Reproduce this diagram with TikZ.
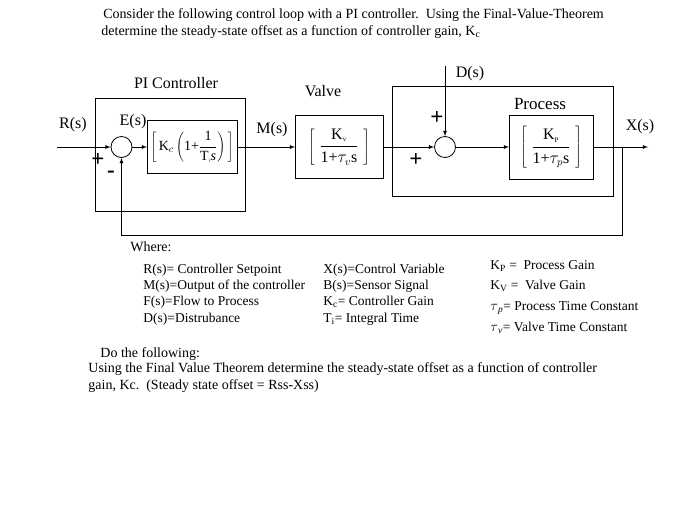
\documentclass[tikz,border=0pt]{standalone}
\usepackage{fontspec}
\setmainfont{Liberation Serif}
\usetikzlibrary{shapes,arrows}

\begin{document}
\begin{tikzpicture}[x=1pt,y=-1pt]
        \tikzstyle{every path}=[line width=0.8pt]
        \useasboundingbox (0,0) rectangle (700,528);

        \edef\sumsize{21pt}
        \tikzstyle{block}=[draw,rectangle,inner sep=0pt,outer sep=0pt]
        \tikzstyle{sum}=[draw,circle,minimum size=\sumsize,inner sep=0pt]
        \tikzstyle{lbl}=[draw=none,font=\fontsize{16}{18}\selectfont]
        \tikzstyle{sign}=[draw=none,font=\fontsize{23}{23}\selectfont\bfseries]
        \tikzstyle{txt}=[draw=none,anchor=base west,inner sep=0pt,font=\fontsize{14}{16}\selectfont]
        \tikzstyle{deftxt}=[txt,font=\fontsize{13.5}{16}\selectfont]
        \tikzstyle{sig}=[->,>=latex]

        %the question above the loop
        \node[txt] (q1) at (103,18) {Consider the following control loop with a PI controller.\ \ Using the Final-Value-Theorem};
        \node[txt] (q2) at (101,35) {determine the steady-state offset as a function of controller gain, K\textsubscript{c}};

        %outer boxes
        \node[block,minimum width=150pt,minimum height=113pt] (pibox) at (170,154.5) {};
        \node[block,minimum width=221pt,minimum height=110pt] (procbox) at (502.5,141) {};

        %blocks and summing points
        \node[sum] (e) at (121.5,147) {};
        \node[block,minimum width=90pt,minimum height=53pt,font=\fontsize{14}{16}\selectfont] (pi) at (192,147)
            {$\displaystyle\left[\,\mbox{K}_{c}\left(\mbox{1+}\frac{\mbox{1}}{\mbox{T}_{\mbox{\tiny i}}\mbox{\itshape s}}\right)\,\right]$};
        \node[block,minimum width=88pt,minimum height=63pt,font=\fontsize{16}{18}\selectfont] (valve) at (339,147)
            {$\displaystyle\left[\;\frac{\mbox{K}_{\mbox{\scriptsize v}}}{\mbox{1+}\tau_{v}\mbox{s}}\;\right]$};
        \node[sum] (d) at (445,147) {};
        \node[block,minimum width=84pt,minimum height=64pt,font=\fontsize{16}{18}\selectfont] (proc) at (551,147)
            {$\displaystyle\left[\;\frac{\mbox{K}_{\mbox{\scriptsize P}}}{\mbox{1+}\tau_{p}\mbox{s}}\;\right]$};

        %labels
        \node[lbl] (rlabel) at (73,125) {R(s)};
        \node[lbl] (elabel) at (133,122) {E(s)};
        \node[lbl] (mlabel) at (272,130) {M(s)};
        \node[lbl] (dlabel) at (470,74) {D(s)};
        \node[lbl] (xlabel) at (640,127) {X(s)};
        \node[lbl] (pilabel) at (176,83) {PI Controller};
        \node[lbl] (valvelabel) at (323,91) {Valve};
        \node[lbl,font=\fontsize{17}{19}\selectfont] (proclabel) at (540,104) {Process};

        \node[sign] (eplus) at (98,160) {+};
        \node[sign] (eminus) at (111,174) {-};
        \node[sign] (dplus) at (437,118) {+};
        \node[sign] (vplus) at (416,160) {+};

        %signals
        \coordinate (rin) at (57,147);
        \coordinate (din) at (445,66);
        \coordinate (xout) at (648,147);
        \coordinate (tap) at (622,147);
        \coordinate (fbend) at (622,235);

        \draw[sig] (rin) -- (e);
        \draw[sig] (e) -- (pi);
        \draw[sig] (pi) -- (valve);
        \draw[sig] (valve) -- (d);
        \draw[sig] (d) -- (proc);
        \draw[sig] (proc) -- (xout);
        \draw[sig] (din) -- (d);
        \draw[sig] (tap) -- (fbend) -| (e);

        %where
        \node[txt] (where) at (130,251) {Where:};
        \foreach \y/\t [count=\i] in {273/{R(s)= Controller Setpoint},289/{M(s)=Output of the controller},305/{F(s)=Flow to Process},322/{D(s)=Distrubance}} {
            \node[deftxt] (defa\i) at (143,\y) {\t};
        };
        \foreach \y/\t [count=\i] in {273/{X(s)=Control Variable},289/{B(s)=Sensor Signal},305/{K\textsubscript{c}= Controller Gain},322/{T\textsubscript{i}= Integral Time}} {
            \node[deftxt] (defb\i) at (323,\y) {\t};
        };
        \foreach \y/\t [count=\i] in {269/{K\textsubscript{P} =\ \ Process Gain},289/{K\textsubscript{V} =\ \ Valve Gain},310/{{\Large$\tau$}\textsubscript{\itshape p}= Process Time Constant},331/{{\Large$\tau$}\textsubscript{\itshape v}= Valve Time Constant}} {
            \node[deftxt] (defc\i) at (490,\y) {\t};
        };

        %the task
        \node[txt] (todo) at (100,357) {Do the following:};
        \node[txt] (task1) at (88,372) {Using the Final Value Theorem determine the steady-state offset as a function of controller};
        \node[txt] (task2) at (88,389) {gain, Kc.\ \ (Steady state offset = Rss-Xss)};
\end{tikzpicture}
\end{document}
